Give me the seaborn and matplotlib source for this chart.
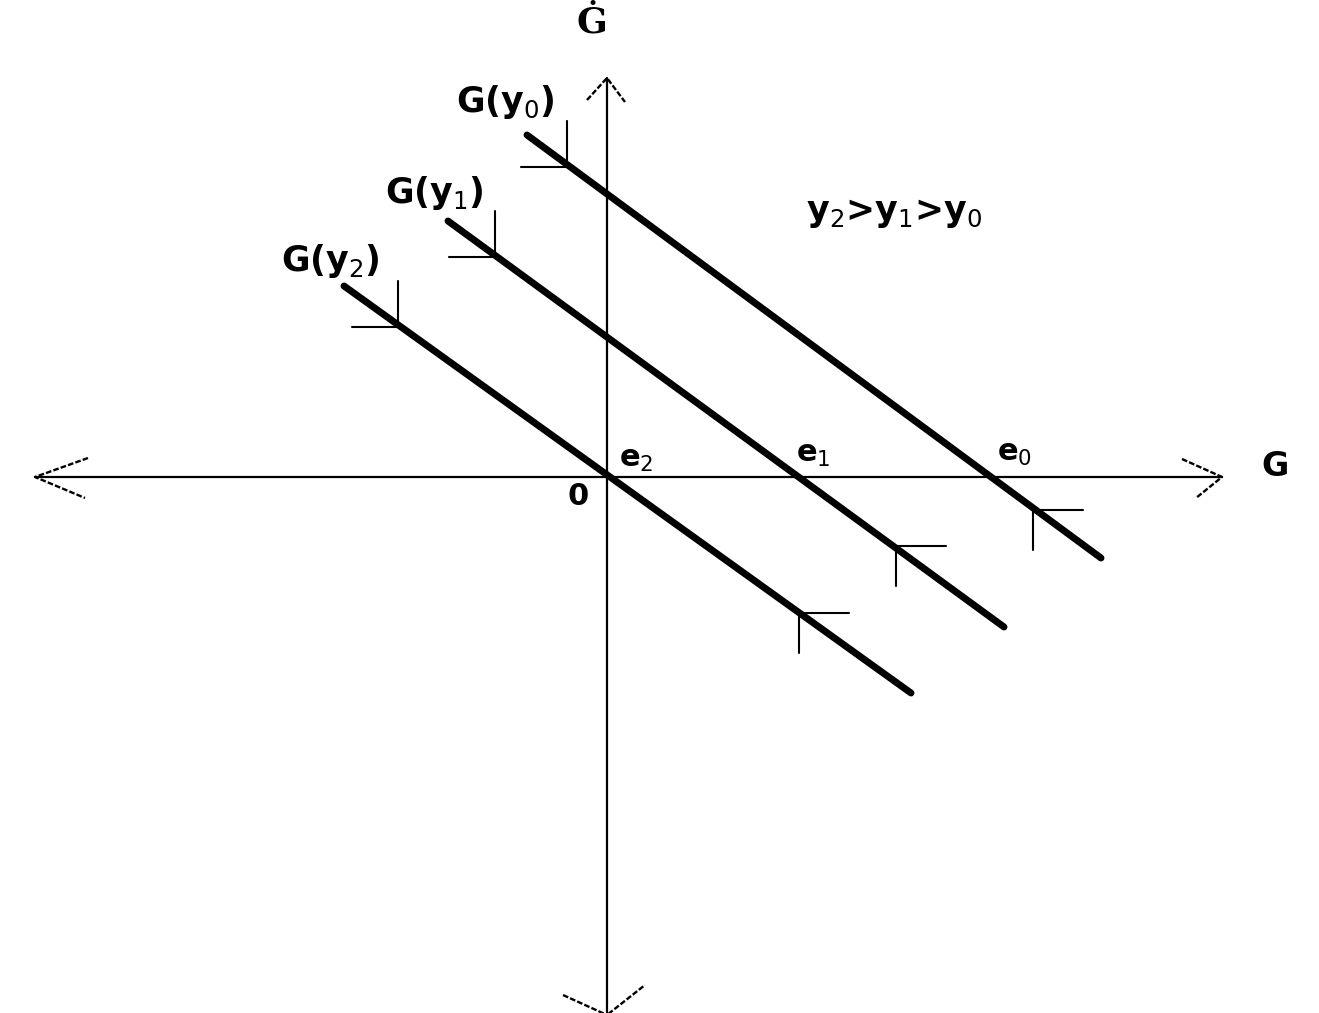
import matplotlib
matplotlib.use("Agg")
import matplotlib.pyplot as plt
import seaborn as sns
import pandas as pd

sns.set_theme(style="white")
plt.rcParams['font.family'] = ['DejaVu Sans']
plt.rcParams['mathtext.fontset'] = 'dejavusans'
plt.rcParams['text.color'] = 'black'

# ---- data (diagram units: pixel offsets from the origin, y upward) ----
curve_names = ["G(y$_0$)", "G(y$_1$)", "G(y$_2$)"]
curve_x_start = [-80, -159, -263]
curve_y_start = [342, 256, 191]
curve_x_end = [494, 397, 304]
curve_y_end = [-81, -150, -216]

# direction markers on each curve (upper-left and lower-right)
upper_mark_x = [-40, -112, -209]
upper_mark_y = [310, 220, 150]
lower_mark_x = [426, 289, 192]
lower_mark_y = [-33, -69, -136]
mark_len = 46

# equilibria on the G axis
eq_names = ["e$_0$", "e$_1$", "e$_2$"]
eq_x = [383, 190, 0]

# axis extents
g_axis = [-572, 615]
gdot_axis = [399, -538]

df = pd.DataFrame({
    "curve": curve_names * 2,
    "x": curve_x_start + curve_x_end,
    "y": curve_y_start + curve_y_end,
})

fig = plt.figure(figsize=(13.19, 10.13), dpi=100)
ax = fig.add_axes([0, 0, 1, 1])
ax.set_xlim(-607, 712)
ax.set_ylim(-536, 477)
ax.set_axis_off()

# axes lines
ax.plot(g_axis, [0, 0], color="black", lw=1.6)
ax.plot([0, 0], gdot_axis, color="black", lw=1.6)

# open (hand-drawn, dashed) arrowheads
ah = dict(color="black", lw=1.7, linestyle=(0, (2.4, 0.9)))
ax.plot([g_axis[0] + 53, g_axis[0], g_axis[0] + 50], [19, 0, -21], **ah)
ax.plot([g_axis[1] - 40, g_axis[1], g_axis[1] - 26], [18, 0, -21], **ah)
ax.plot([-20, 0, 18], [gdot_axis[0] - 22, gdot_axis[0], gdot_axis[0] - 24], **ah)
ax.plot([-44, 0, 38], [gdot_axis[1] + 20, gdot_axis[1], gdot_axis[1] + 30], **ah)

# the three G(y) lines
sns.lineplot(data=df, x="x", y="y", hue="curve", palette=["black"] * 3,
             legend=False, lw=5.0, solid_capstyle="round", ax=ax, sort=False)

# direction markers
for ux, uy, lx, ly in zip(upper_mark_x, upper_mark_y, lower_mark_x, lower_mark_y):
    ax.plot([ux, ux, ux - mark_len], [uy + mark_len, uy, uy], color="black", lw=1.5)
    ax.plot([lx, lx, lx + mark_len + 4], [ly - mark_len + 6, ly, ly], color="black", lw=1.5)

# labels
label_pos = [(-102, 375), (-173, 284), (-277, 216)]
for name, (lx, ly) in zip(curve_names, label_pos):
    ax.text(lx, ly, name, fontsize=25, fontweight="bold", ha="center", va="center",
            color="black")

eq_label_pos = [(408, 24), (206, 23), (29, 18)]
for name, (lx, ly) in zip(eq_names, eq_label_pos):
    ax.text(lx, ly, name, fontsize=22, fontweight="bold", ha="center", va="center",
            color="black")

ax.text(-29, -19, "0", fontsize=22, fontweight="bold", ha="center", va="center",
        color="black")
ax.text(668, 11, "G", fontsize=24, fontweight="bold", ha="center", va="center",
        color="black")
ax.text(-15, 455, "Ġ", fontsize=26, fontweight="bold", ha="center", va="center",
        family="DejaVu Serif", color="black")
ax.text(287, 264, "y$_2$>y$_1$>y$_0$", fontsize=25, fontweight="bold",
        ha="center", va="center", color="black")

fig.savefig("out.png", dpi=100)
